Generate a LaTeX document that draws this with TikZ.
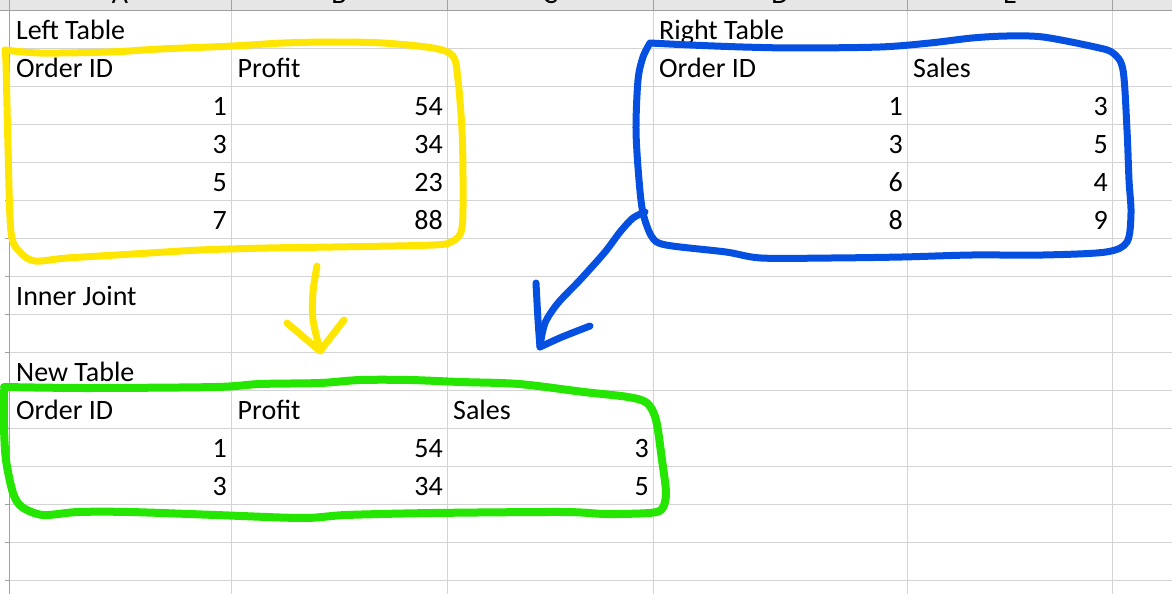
\documentclass[tikz,border=0pt]{standalone}
\usepackage{fontspec}
\setmainfont{Carlito}
\definecolor{hy}{RGB}{255,230,0}
\definecolor{hb}{RGB}{5,80,225}
\definecolor{hg}{RGB}{36,230,0}
\definecolor{gridgray}{RGB}{212,212,212}
\definecolor{hdrgray}{RGB}{230,230,230}
\definecolor{dkgray}{RGB}{160,160,160}
\begin{document}
\begin{tikzpicture}[x=1pt,y=-1pt,
  gridline/.style={draw=gridgray,line width=1pt},
  darkline/.style={draw=dkgray,line width=1.2pt},
  cell/.style={font=\fontsize{28}{30}\selectfont,inner sep=0pt,text=black},
  lt/.style={cell,anchor=base west},
  rt/.style={cell,anchor=base east},
  hdr/.style={cell,anchor=base},
  hand/.style={line width=7pt,line cap=round,line join=round},
]
\useasboundingbox (0,0) rectangle (1172,594);
\fill[white] (0,0) rectangle (1172,594);
% header strip
\fill[hdrgray] (0,0) rectangle (1172,10.5);
\begin{scope}
  \clip (0,0) rectangle (1172,10);
  \node[hdr] (hA) at (120,3.5) {A};
  \node[hdr] (hB) at (339,3.5) {B};
  \node[hdr] (hC) at (550,3.5) {C};
  \node[hdr] (hD) at (780,3.5) {D};
  \node[hdr] (hE) at (1010,3.5) {E};
\end{scope}
\foreach \x in {9.5,231.5,447.5,653.5,907.5,1112.5}
  \draw[darkline] (\x,0) -- (\x,10.5);
% grid
\foreach \y in {48.5,86.5,...,580.5}{
  \draw[gridline] (9.5,\y) -- (1172,\y);
  \draw[darkline] (5,\y) -- (9.5,\y);
}
\foreach \x in {231.5,447.5,653.5,907.5,1112.5}
  \draw[gridline] (\x,10.5) -- (\x,594);
\draw[darkline] (0,10.5) -- (1172,10.5);
\draw[darkline] (9.5,10.5) -- (9.5,594);
% left table
\node[lt] (lttitle) at (16,39.5) {Left Table};
\node[lt] (lth1) at (16,77.5) {Order ID};
\node[lt] (lth2) at (237.5,77.5) {Profit};
\node[rt] (l11) at (227,115.5) {1};  \node[rt] (l12) at (443,115.5) {54};
\node[rt] (l21) at (227,153.5) {3};  \node[rt] (l22) at (443,153.5) {34};
\node[rt] (l31) at (227,191.5) {5};  \node[rt] (l32) at (443,191.5) {23};
\node[rt] (l41) at (227,229.5) {7};  \node[rt] (l42) at (443,229.5) {88};
% right table
\node[lt] (rttitle) at (659,39.5) {Right Table};
\node[lt] (rth1) at (659,77.5) {Order ID};
\node[lt] (rth2) at (913,77.5) {Sales};
\node[rt] (r11) at (903,115.5) {1};  \node[rt] (r12) at (1108,115.5) {3};
\node[rt] (r21) at (903,153.5) {3};  \node[rt] (r22) at (1108,153.5) {5};
\node[rt] (r31) at (903,191.5) {6};  \node[rt] (r32) at (1108,191.5) {4};
\node[rt] (r41) at (903,229.5) {8};  \node[rt] (r42) at (1108,229.5) {9};
% inner join label
\node[lt] (join) at (16,305.5) {Inner Joint};
% new table
\node[lt] (nttitle) at (16,381.5) {New Table};
\node[lt] (nth1) at (16,419.5) {Order ID};
\node[lt] (nth2) at (237.5,419.5) {Profit};
\node[lt] (nth3) at (453,419.5) {Sales};
\node[rt] (n11) at (227,457.5) {1}; \node[rt] (n12) at (443,457.5) {54}; \node[rt] (n13) at (649,457.5) {3};
\node[rt] (n21) at (227,495.5) {3}; \node[rt] (n22) at (443,495.5) {34}; \node[rt] (n23) at (649,495.5) {5};
% yellow loop and arrow
\draw[hand,hy] plot[smooth,tension=0.5] coordinates {(5,50) (40,53) (110,52) (160,49) (233,46) (283,43) (333,42) (383,43) (433,48) (453,56) (458,80) (462,130) (463,180) (462,228) (453,241) (433,245) (333,247) (267,248) (200,250) (133,254) (67,258) (35,261) (20,252) (11,232) (8,147) (6,63) (5,50)};
\draw[hand,hy] plot[smooth,tension=0.5] coordinates {(317,266) (313,292) (313,320) (320,350)};
\draw[hand,hy] (287,323) -- (320,351) -- (344,320);
% blue loop and arrow
\draw[hand,hb] plot[smooth,tension=0.5] coordinates {(650,43) (643,57) (638,80) (636,130) (639,180) (643,213) (652,237) (666,245) (726,252) (761,258) (831,258) (902,257) (972,255) (1043,255) (1106,252) (1127,242) (1131,213) (1129,180) (1127,130) (1123,70) (1113,53) (1095,47) (1043,37) (1007,36) (972,38) (930,43) (880,47) (796,48) (743,47) (690,45) (650,43)};
\draw[hand,hb] plot[smooth,tension=0.5] coordinates {(645,212) (633,218) (620,232) (605,252) (580,280) (558,303) (545,323) (540,346)};
\draw[hand,hb] plot[smooth,tension=0.5] coordinates {(536,283) (538,320) (540,347)};
\draw[hand,hb] plot[smooth,tension=0.5] coordinates {(540,347) (562,337) (590,326)};
% green loop
\draw[hand,hg,line width=8pt] plot[smooth,tension=0.5] coordinates {(4,387) (87,388) (216,387) (260,384) (320,383) (360,380) (410,380) (460,382) (519,384) (584,392) (628,397) (647,403) (656,420) (662,460) (666,493) (662,509) (649,513) (606,514) (563,512) (433,513) (346,515) (303,518) (216,515) (130,512) (78,512) (43,515) (22,507) (13,493) (6,460) (4,427) (4,390)};
\end{tikzpicture}
\end{document}
